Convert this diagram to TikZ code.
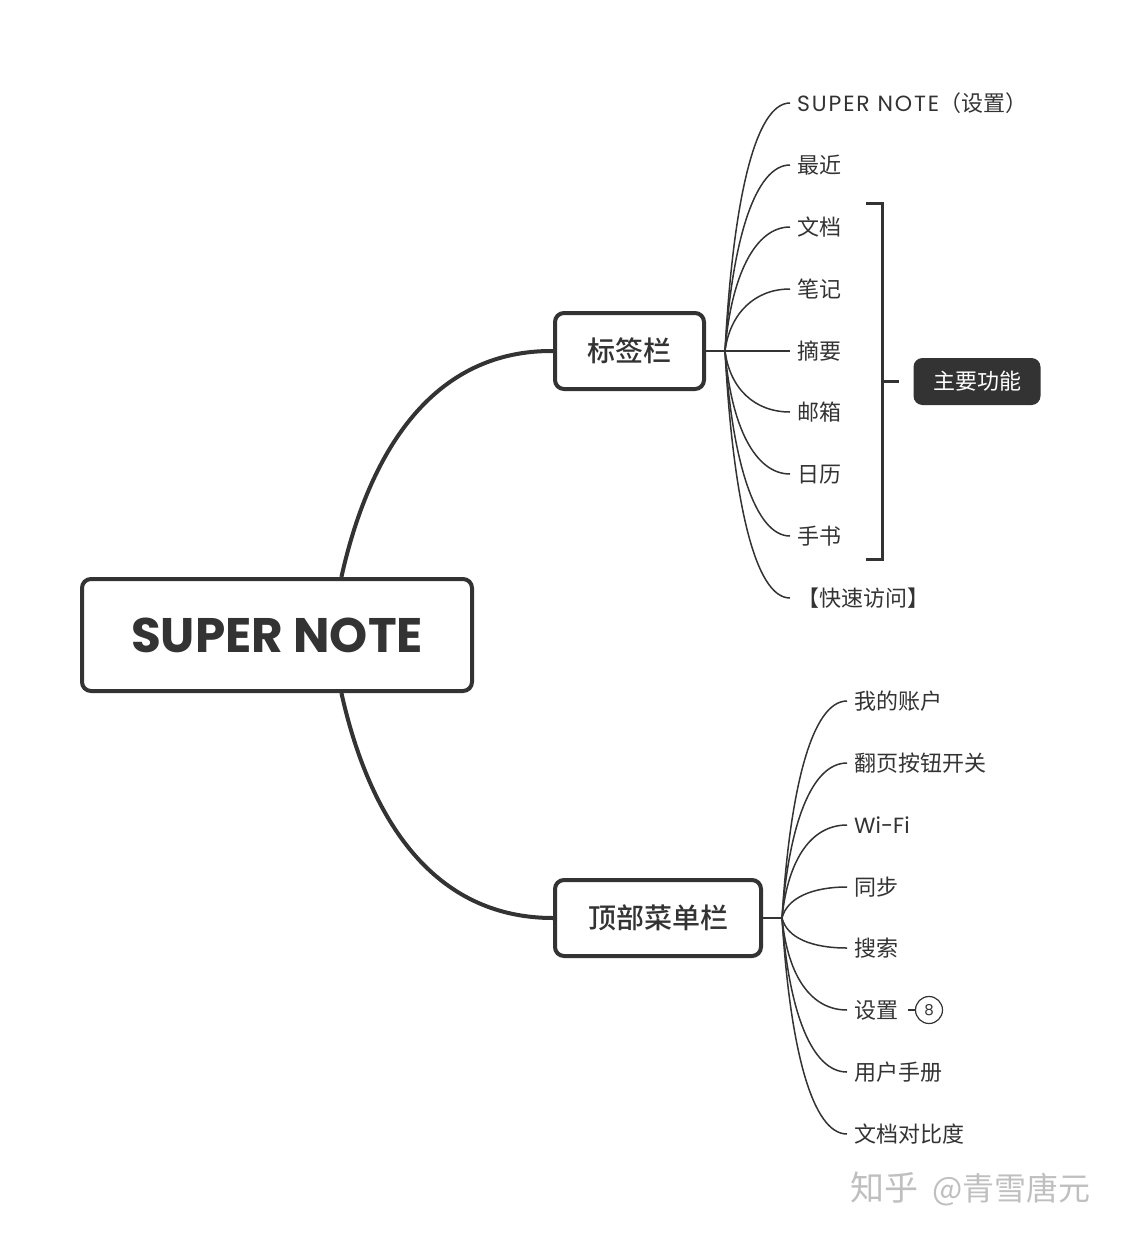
\documentclass[tikz,border=0pt]{standalone}
\usepackage{fontspec}
\setmainfont{Noto Sans CJK SC}
\newfontfamily\latinfont{Poppins}
\newfontfamily\capsfont[LetterSpace=8.5]{Poppins}
\newfontfamily\mediumfont{Noto Sans CJK SC Medium}
\usetikzlibrary{positioning}
\definecolor{ink}{HTML}{333333}
\tikzset{
    topic/.style={draw=ink, line width=4pt, rounded corners=9pt, fill=white, text=ink, inner sep=0pt},
    branch/.style={draw=ink, line width=4pt},
    twig/.style={draw=ink, line width=1.5pt},
    leaf/.style={anchor=west, text=ink, inner xsep=7pt, inner ysep=0pt, text height=19pt, text depth=3pt, font=\fontsize{22}{26}\selectfont},
}
\begin{document}
\begin{tikzpicture}[x=1pt, y=-1pt]
            \useasboundingbox (0,0) rectangle (1120,1237);

            % Root and first level
            \node[topic, minimum width=390pt, minimum height=112pt] (root) at (277,635) {\latinfont\bfseries\fontsize{48.5}{52}\selectfont SUPER NOTE};
            \node[topic, minimum width=149pt, minimum height=76pt, font=\mediumfont\fontsize{28}{32}\selectfont] (tabs) at (629.5,351) {标签栏};
            \node[topic, minimum width=206pt, minimum height=76pt, font=\mediumfont\fontsize{28}{32}\selectfont] (menu) at (658,918) {顶部菜单栏};
            \draw[branch] (root.42) .. controls (372,440) and (440,350) .. (tabs.west);
            \draw[branch] (root.-42) .. controls (372,830) and (440,918) .. (menu.west);

            % Upper leaves
            \coordinate (tabs-fan) at (725,351);
            \node[leaf] (tabs-1) at (790,103) {{\capsfont SUPER NOTE}（设置）};
            \node[leaf] (tabs-2) at (790,165) {最近};
            \node[leaf] (tabs-3) at (790,227) {文档};
            \node[leaf] (tabs-4) at (790,289) {笔记};
            \node[leaf] (tabs-5) at (790,351) {摘要};
            \node[leaf] (tabs-6) at (790,412) {邮箱};
            \node[leaf] (tabs-7) at (790,474) {日历};
            \node[leaf] (tabs-8) at (790,536) {手书};
            \node[leaf] (tabs-9) at (790,598) {【快速访问】};
            \draw[twig] (tabs.east) -- (tabs-5.west);
            \draw[twig] (tabs-fan) .. controls +(8,-150) and +(-35,0) .. (tabs-1.west);
            \draw[twig] (tabs-fan) .. controls +(7,-110) and +(-35,0) .. (tabs-2.west);
            \draw[twig] (tabs-fan) .. controls +(6,-75) and +(-35,0) .. (tabs-3.west);
            \draw[twig] (tabs-fan) .. controls +(5,-38) and +(-35,0) .. (tabs-4.west);
            \draw[twig] (tabs-fan) .. controls +(5,38) and +(-35,0) .. (tabs-6.west);
            \draw[twig] (tabs-fan) .. controls +(6,75) and +(-35,0) .. (tabs-7.west);
            \draw[twig] (tabs-fan) .. controls +(7,110) and +(-35,0) .. (tabs-8.west);
            \draw[twig] (tabs-fan) .. controls +(8,150) and +(-35,0) .. (tabs-9.west);

            % Bracket and its label
            \node[fill=ink, rounded corners=9pt, text=white, minimum width=127pt, minimum height=47pt, inner sep=0pt, font=\fontsize{22}{26}\selectfont] (main) at (977,381.5) {主要功能};
            \coordinate (bracket-a) at (866,203);
            \coordinate (bracket-b) at (866,559);
            \coordinate (bracket-c) at (899,381);
            \draw[draw=ink, line width=3pt] (bracket-a) -- (882,203) -- (882,559) -- (bracket-b);
            \draw[draw=ink, line width=3pt] (882,381) -- (bracket-c);

            % Lower leaves
            \coordinate (menu-fan) at (782,918);
            \node[leaf] (menu-1) at (847,701) {我的账户};
            \node[leaf] (menu-2) at (847,763) {翻页按钮开关};
            \node[leaf] (menu-3) at (847,825) {\latinfont Wi-Fi};
            \node[leaf] (menu-4) at (847,887) {同步};
            \node[leaf] (menu-5) at (847,948) {搜索};
            \node[leaf] (menu-6) at (847,1010) {设置};
            \node[leaf] (menu-7) at (847,1072) {用户手册};
            \node[leaf] (menu-8) at (847,1134) {文档对比度};
            \draw[twig] (menu.east) -- (menu-fan);
            \draw[twig] (menu-fan) .. controls +(8,-130) and +(-35,0) .. (menu-1.west);
            \draw[twig] (menu-fan) .. controls +(7,-95) and +(-35,0) .. (menu-2.west);
            \draw[twig] (menu-fan) .. controls +(6,-60) and +(-35,0) .. (menu-3.west);
            \draw[twig] (menu-fan) .. controls +(5,-20) and +(-35,0) .. (menu-4.west);
            \draw[twig] (menu-fan) .. controls +(5,20) and +(-35,0) .. (menu-5.west);
            \draw[twig] (menu-fan) .. controls +(6,60) and +(-35,0) .. (menu-6.west);
            \draw[twig] (menu-fan) .. controls +(7,95) and +(-35,0) .. (menu-7.west);
            \draw[twig] (menu-fan) .. controls +(8,130) and +(-35,0) .. (menu-8.west);

            % Link to another page
            \node[circle, draw=ink, line width=1.2pt, minimum size=27pt, inner sep=0pt, text=ink, font=\latinfont\fontsize{15}{17}\selectfont] (badge) at (929,1010) {8};
            \coordinate (badge-stub) at (908,1010);
            \draw[twig] (badge-stub) -- (badge.west);

            % Watermark
            \node[anchor=east, inner sep=0pt, text=black!25, font=\fontsize{32}{36}\selectfont] (mark) at (1091,1189) {{\fontsize{34}{36}\selectfont 知乎}\hspace{14pt}@青雪唐元};
        \end{tikzpicture}
\end{document}
